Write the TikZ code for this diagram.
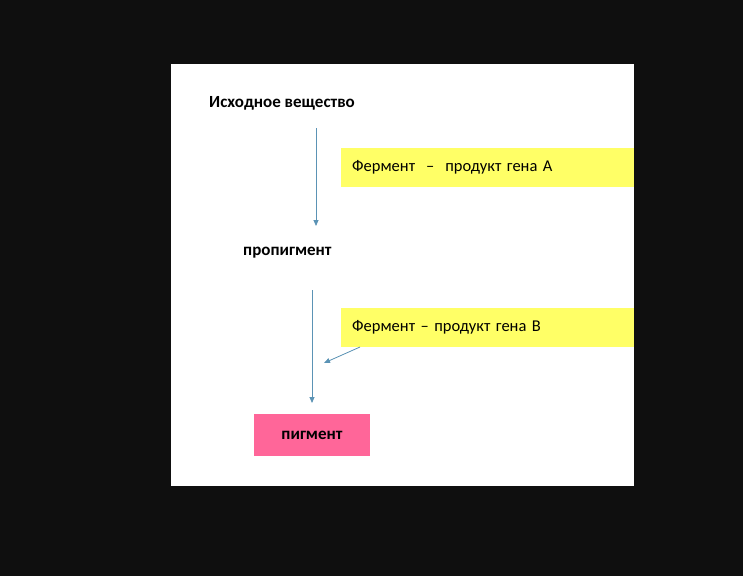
\documentclass[tikz,border=0pt]{standalone}
\usepackage{fontspec}
\setmainfont{Carlito}
\usetikzlibrary{arrows.meta}
\definecolor{ylw}{HTML}{FFFF66}
\definecolor{pnk}{HTML}{FF6699}
\definecolor{arr}{HTML}{5B93B5}
\begin{document}
\begin{tikzpicture}[x=1pt,y=-1pt,
  title/.style={font=\fontsize{17}{20}\selectfont\bfseries,anchor=west,inner sep=0},
  ybox/.style={fill=ylw,anchor=west,minimum height=39pt,font=\fontsize{16.5}{20}\selectfont,inner sep=0,text width=293pt,align=left},
  conn/.style={draw=arr,line width=0.8pt,-{Triangle[length=6pt,width=5pt]}}]
\fill[black!94] (0,0) rectangle (743,576);
\useasboundingbox (0,0) rectangle (743,576);
\fill[white] (171,64) rectangle (634,486);
\node[title] (src) at (209,103) {Исходное вещество};
\node[title] (pro) at (243,253) {пропигмент};
\node[ybox] (ea) at (341,167.5) {\hspace{11pt}Фермент~~–~~продукт гена А};
\node[ybox] (eb) at (341,327) {\hspace{11pt}Фермент – продукт гена В};
\node[fill=pnk,minimum width=116pt,minimum height=42pt,inner sep=0,font=\fontsize{17}{20}\selectfont\bfseries] (pig) at (312,435) {пигмент};
\coordinate (a1) at (316,128);
\coordinate (a2) at (316,226);
\coordinate (b1) at (312,290);
\coordinate (b2) at (312,403);
\coordinate (c1) at (360,347);
\coordinate (c2) at (324,363);
\draw[conn] (a1) -- (a2);
\draw[conn] (b1) -- (b2);
\draw[conn] (c1) -- (c2);
\end{tikzpicture}
\end{document}
